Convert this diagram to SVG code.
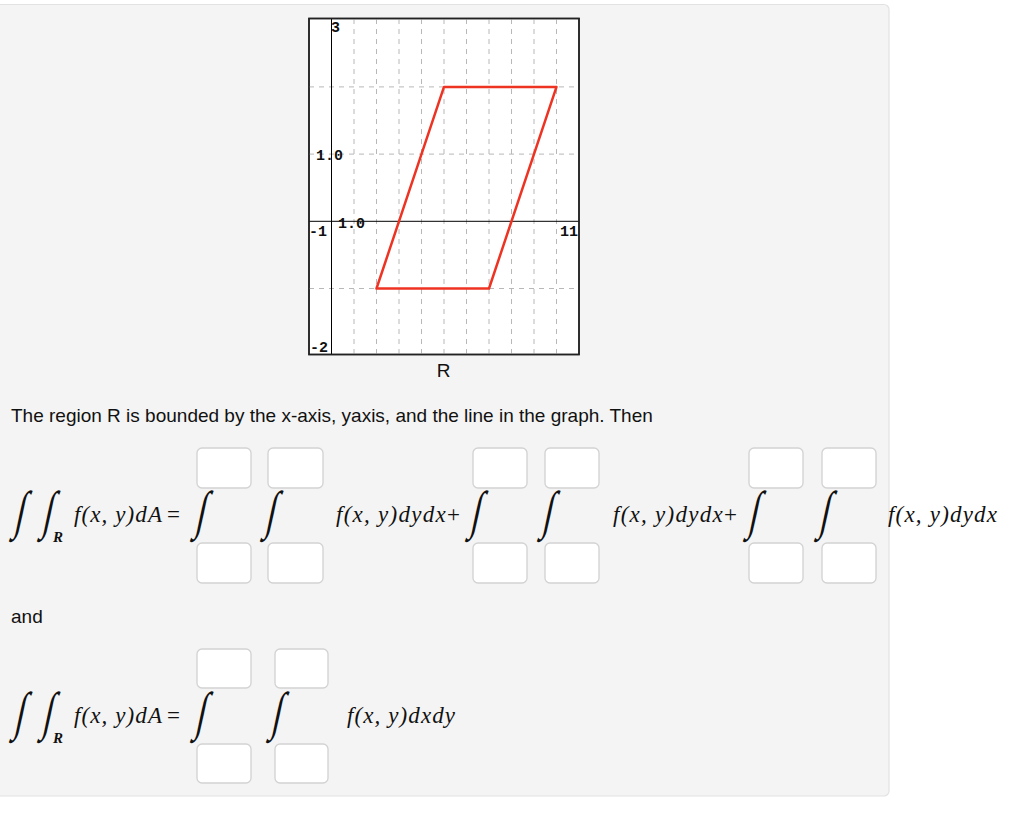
<svg xmlns="http://www.w3.org/2000/svg" width="1024" height="814" viewBox="0 0 1024 814">
<defs>
<style>
.panel{fill:#f4f4f4;stroke:#e2e2e2;stroke-width:1.2}
.grid{stroke:#b8b8b8;stroke-width:1;stroke-dasharray:5 5;fill:none}
.axis{stroke:#000;stroke-width:1;fill:none}
.frame{fill:#fff;stroke:#222;stroke-width:1.5}
.region{fill:none;stroke:#ee3322;stroke-width:2.5;stroke-linejoin:round}
.lbl{font-family:"Liberation Mono","DejaVu Sans Mono",monospace;font-weight:bold;font-size:15px;fill:#111}
.txt{font-family:"Liberation Sans",Arial,sans-serif;font-size:19px;fill:#111}
.math{font-family:"Liberation Serif","Times New Roman",serif;font-style:italic;font-size:23px;fill:#111}
.up{font-style:normal}
.int{font-family:"Liberation Serif","Times New Roman",serif;font-size:46px;fill:#111}
.sub{font-family:"Liberation Serif","Times New Roman",serif;font-style:italic;font-weight:bold;font-size:15px;fill:#111}
.box{fill:#fff;stroke:#d2d2d2;stroke-width:1.3}
</style>
</defs>
<rect class="panel" x="-6" y="4.5" width="895" height="791.5" rx="5"/>

<g id="graph">
<rect class="frame" x="309" y="18.5" width="270" height="336"/>
<g class="grid">
<line x1="354" y1="19" x2="354" y2="354"/>
<line x1="376.5" y1="19" x2="376.5" y2="354"/>
<line x1="399" y1="19" x2="399" y2="354"/>
<line x1="421.5" y1="19" x2="421.5" y2="354"/>
<line x1="444" y1="19" x2="444" y2="354"/>
<line x1="466.5" y1="19" x2="466.5" y2="354"/>
<line x1="489" y1="19" x2="489" y2="354"/>
<line x1="511.5" y1="19" x2="511.5" y2="354"/>
<line x1="534" y1="19" x2="534" y2="354"/>
<line x1="556.5" y1="19" x2="556.5" y2="354"/>
<line x1="309" y1="86.9" x2="579" y2="86.9"/>
<line x1="309" y1="154.1" x2="579" y2="154.1"/>
<line x1="309" y1="288.5" x2="579" y2="288.5"/>
</g>
<line class="axis" x1="331.5" y1="18.5" x2="331.5" y2="354.5"/>
<line class="axis" x1="309" y1="221.3" x2="579" y2="221.3"/>
<polygon class="region" points="376.5,288.5 489,288.5 556.5,86.9 444,86.9"/>
<text class="lbl" x="331" y="32">3</text>
<text class="lbl" x="316" y="160">1.0</text>
<text class="lbl" x="338" y="228">1.0</text>
<text class="lbl" x="309" y="236">-1</text>
<text class="lbl" x="560" y="236">11</text>
<text class="lbl" x="310" y="352">-2</text>
<rect class="frame" x="309" y="18.5" width="270" height="336" style="fill:none"/>
</g>

<text id="caption" class="txt" x="443.5" y="377" text-anchor="middle">R</text>
<text id="sentence" class="txt" x="11" y="422">The region R is bounded by the x-axis, yaxis, and the line in the graph. Then</text>

<g id="eq1">
<text class="int" transform="translate(13.5,528) skewX(-12) scale(0.75,1.15)">∫</text>
<text class="int" transform="translate(41.5,528) skewX(-12) scale(0.75,1.15)">∫</text>
<text class="sub" x="53" y="542">R</text>
<text class="math" x="74" y="522" textLength="88" lengthAdjust="spacing">f(x, y)dA</text>
<text class="math up" x="167" y="522">=</text>
<text class="int" transform="translate(194.5,528) skewX(-12) scale(0.75,1.15)">∫</text>
<rect class="box" x="197" y="448" width="54" height="40" rx="5"/>
<rect class="box" x="197" y="543" width="54" height="40" rx="5"/>
<text class="int" transform="translate(264.5,528) skewX(-12) scale(0.75,1.15)">∫</text>
<rect class="box" x="268" y="448" width="55" height="40" rx="5"/>
<rect class="box" x="268" y="543" width="55" height="40" rx="5"/>
<text class="math" x="336" y="522" textLength="124" lengthAdjust="spacing">f(x, y)dydx<tspan class="up">+</tspan></text>
<text class="int" transform="translate(469.5,528) skewX(-12) scale(0.75,1.15)">∫</text>
<rect class="box" x="473" y="448" width="54" height="40" rx="5"/>
<rect class="box" x="473" y="543" width="54" height="40" rx="5"/>
<text class="int" transform="translate(541.5,528) skewX(-12) scale(0.75,1.15)">∫</text>
<rect class="box" x="545" y="448" width="54" height="40" rx="5"/>
<rect class="box" x="545" y="543" width="54" height="40" rx="5"/>
<text class="math" x="613" y="522" textLength="124" lengthAdjust="spacing">f(x, y)dydx<tspan class="up">+</tspan></text>
<text class="int" transform="translate(747.5,528) skewX(-12) scale(0.75,1.15)">∫</text>
<rect class="box" x="749" y="448" width="54" height="40" rx="5"/>
<rect class="box" x="749" y="543" width="54" height="40" rx="5"/>
<text class="int" transform="translate(818.5,528) skewX(-12) scale(0.75,1.15)">∫</text>
<rect class="box" x="822" y="448" width="54" height="40" rx="5"/>
<rect class="box" x="822" y="543" width="54" height="40" rx="5"/>
<text class="math" x="888" y="522" textLength="109" lengthAdjust="spacing">f(x, y)dydx</text>
</g>

<text id="and" class="txt" x="11" y="623">and</text>

<g id="eq2">
<text class="int" transform="translate(13.5,729) skewX(-12) scale(0.75,1.15)">∫</text>
<text class="int" transform="translate(41.5,729) skewX(-12) scale(0.75,1.15)">∫</text>
<text class="sub" x="53" y="743">R</text>
<text class="math" x="74" y="723" textLength="88" lengthAdjust="spacing">f(x, y)dA</text>
<text class="math up" x="167" y="723">=</text>
<text class="int" transform="translate(194.5,729) skewX(-12) scale(0.75,1.15)">∫</text>
<rect class="box" x="197" y="649" width="54" height="39" rx="5"/>
<rect class="box" x="197" y="744" width="54" height="39" rx="5"/>
<text class="int" transform="translate(270.5,729) skewX(-12) scale(0.75,1.15)">∫</text>
<rect class="box" x="275" y="649" width="53" height="39" rx="5"/>
<rect class="box" x="275" y="744" width="53" height="39" rx="5"/>
<text class="math" x="347" y="723" textLength="108" lengthAdjust="spacing">f(x, y)dxdy</text>
</g>
</svg>
